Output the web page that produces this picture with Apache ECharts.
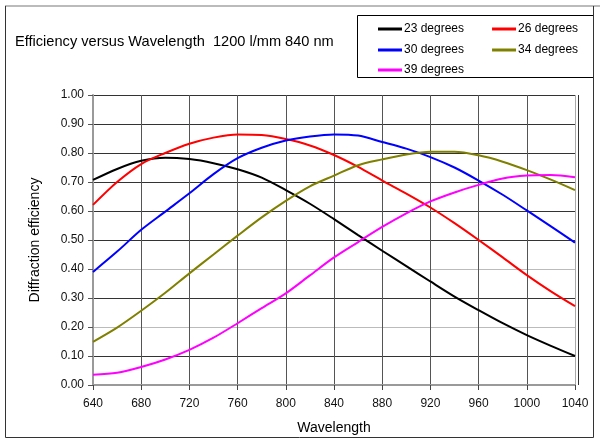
<!DOCTYPE html>
<html>
<head>
<meta charset="UTF-8">
<title>Efficiency versus Wavelength</title>
<script src="https://cdn.jsdelivr.net/npm/echarts@6/dist/echarts.min.js"></script>
<style>
  html, body { margin: 0; padding: 0; background: #fff; }
  #chart { width: 600px; height: 443px; }
</style>
</head>
<body>
<div id="chart"></div>
<script>
    // wavelength (nm), one value every 20 nm
    var wavelength = [640, 660, 680, 700, 720, 740, 760, 780, 800, 820, 840,
                      860, 880, 900, 920, 940, 960, 980, 1000, 1020, 1040];

    // diffraction efficiency
    var deg23 = [0.707, 0.745, 0.773, 0.784, 0.779, 0.765, 0.744, 0.715, 0.672, 0.625, 0.572,
                 0.517, 0.463, 0.410, 0.357, 0.305, 0.258, 0.213, 0.172, 0.135, 0.100];
    var deg26 = [0.621, 0.700, 0.762, 0.800, 0.832, 0.853, 0.864, 0.862, 0.848, 0.826, 0.793,
                 0.752, 0.705, 0.660, 0.612, 0.558, 0.500, 0.440, 0.379, 0.323, 0.272];
    var deg30 = [0.390, 0.460, 0.535, 0.598, 0.661, 0.727, 0.782, 0.818, 0.843, 0.857, 0.864,
                 0.860, 0.838, 0.815, 0.786, 0.750, 0.705, 0.656, 0.602, 0.547, 0.491];
    var deg34 = [0.149, 0.198, 0.256, 0.318, 0.385, 0.450, 0.515, 0.578, 0.635, 0.685, 0.722,
                 0.758, 0.778, 0.795, 0.804, 0.804, 0.792, 0.770, 0.741, 0.708, 0.672];
    var deg39 = [0.035, 0.042, 0.062, 0.088, 0.121, 0.163, 0.213, 0.265, 0.316, 0.378, 0.440,
                 0.493, 0.545, 0.592, 0.633, 0.664, 0.690, 0.712, 0.722, 0.724, 0.716];

    var seriesNames = ['23 degrees', '26 degrees', '30 degrees', '34 degrees', '39 degrees'];
    var seriesColors = ['#000000', '#ff0000', '#0000ff', '#808000', '#ff00ff'];
    var seriesValues = [deg23, deg26, deg30, deg34, deg39];

    var font = '"Liberation Sans", Arial, sans-serif';

    function pairs(values) {
        return wavelength.map(function (w, i) { return [w, values[i]]; });
    }

    var series = seriesNames.map(function (name, k) {
        return {
            name: name,
            type: 'line',
            data: pairs(seriesValues[k]),
            smooth: 0.3,
            showSymbol: false,
            color: seriesColors[k],
            lineStyle: { color: seriesColors[k], width: 2 },
            emphasis: { disabled: true },
            z: 3
        };
    });

    function legendRow(names, top) {
        return {
            data: names,
            left: 373,
            top: top,
            itemGap: 28,
            itemWidth: 24,
            itemHeight: 3,
            icon: 'rect',
            selectedMode: false,
            textStyle: { fontFamily: font, fontSize: 12, color: '#000', padding: [0, 0, 0, -3] }
        };
    }

    var mychart = echarts.init(document.getElementById('chart'));

    var option = {
        backgroundColor: '#fff',
        animation: false,
        title: {
            text: 'Efficiency versus Wavelength  1200 l/mm 840 nm',
            left: 10,
            top: 29,
            textStyle: { fontFamily: font, fontSize: 14.6, fontWeight: 'normal', color: '#000' }
        },
        legend: [
            legendRow(['23 degrees', '26 degrees'], 18),
            legendRow(['30 degrees', '34 degrees'], 39),
            legendRow(['39 degrees'], 59)
        ],
        grid: { left: 93, right: 25, top: 95, bottom: 58, containLabel: false },
        xAxis: {
            type: 'value',
            min: 640,
            max: 1040,
            interval: 40,
            name: 'Wavelength',
            nameLocation: 'middle',
            nameGap: 36,
            nameTextStyle: { fontFamily: font, fontSize: 14, color: '#000' },
            axisLine: { lineStyle: { color: '#9a9a9a', width: 2 } },
            axisTick: { show: true, length: 5, lineStyle: { color: '#444' } },
            axisLabel: {
                margin: 13,
                fontFamily: font,
                fontSize: 12,
                color: '#111',
                formatter: function (v) { return String(v); }
            },
            splitLine: {
                show: true,
                lineStyle: {
                    color: ['#555', '#555', '#555', '#555', '#555', '#555',
                            '#555', '#555', '#555', '#555', '#aaa'],
                    width: 1
                }
            }
        },
        yAxis: {
            type: 'value',
            min: 0,
            max: 1,
            interval: 0.1,
            name: 'Diffraction efficiency',
            nameLocation: 'middle',
            nameGap: 51,
            nameTextStyle: { fontFamily: font, fontSize: 14, color: '#000' },
            axisLine: { show: true, lineStyle: { color: '#9a9a9a', width: 2 } },
            axisTick: { show: true, length: 5, lineStyle: { color: '#555' } },
            axisLabel: {
                margin: 9,
                fontFamily: font,
                fontSize: 12,
                color: '#111',
                formatter: function (v) { return v.toFixed(2); }
            },
            splitLine: {
                show: true,
                lineStyle: {
                    color: ['#bbb', '#333', '#bbb', '#333', '#bbb', '#333',
                            '#333', '#333', '#333', '#333', '#333'],
                    width: 1
                }
            }
        },
        graphic: [
            // plot area right edge
            { type: 'line', shape: { x1: 578.5, y1: 95, x2: 578.5, y2: 385 },
              style: { stroke: '#333', lineWidth: 1 }, z: 1 },
            // legend frame
            { type: 'rect', shape: { x: 357.5, y: 15.5, width: 236, height: 62 },
              style: { fill: 'none', stroke: '#000', lineWidth: 1 }, z: 1 },
            // chart frame
            { type: 'line', shape: { x1: 5, y1: 6, x2: 600, y2: 6 },
              style: { stroke: '#bbb', lineWidth: 2 }, z: 1 },
            { type: 'polyline', shape: { points: [[5.5, 6], [5.5, 437.5], [593.5, 437.5], [593.5, 6]] },
              style: { fill: 'none', stroke: '#333', lineWidth: 1 }, z: 1 }
        ],
        series: series
    };

    mychart.setOption(option);
</script>
</body>
</html>
